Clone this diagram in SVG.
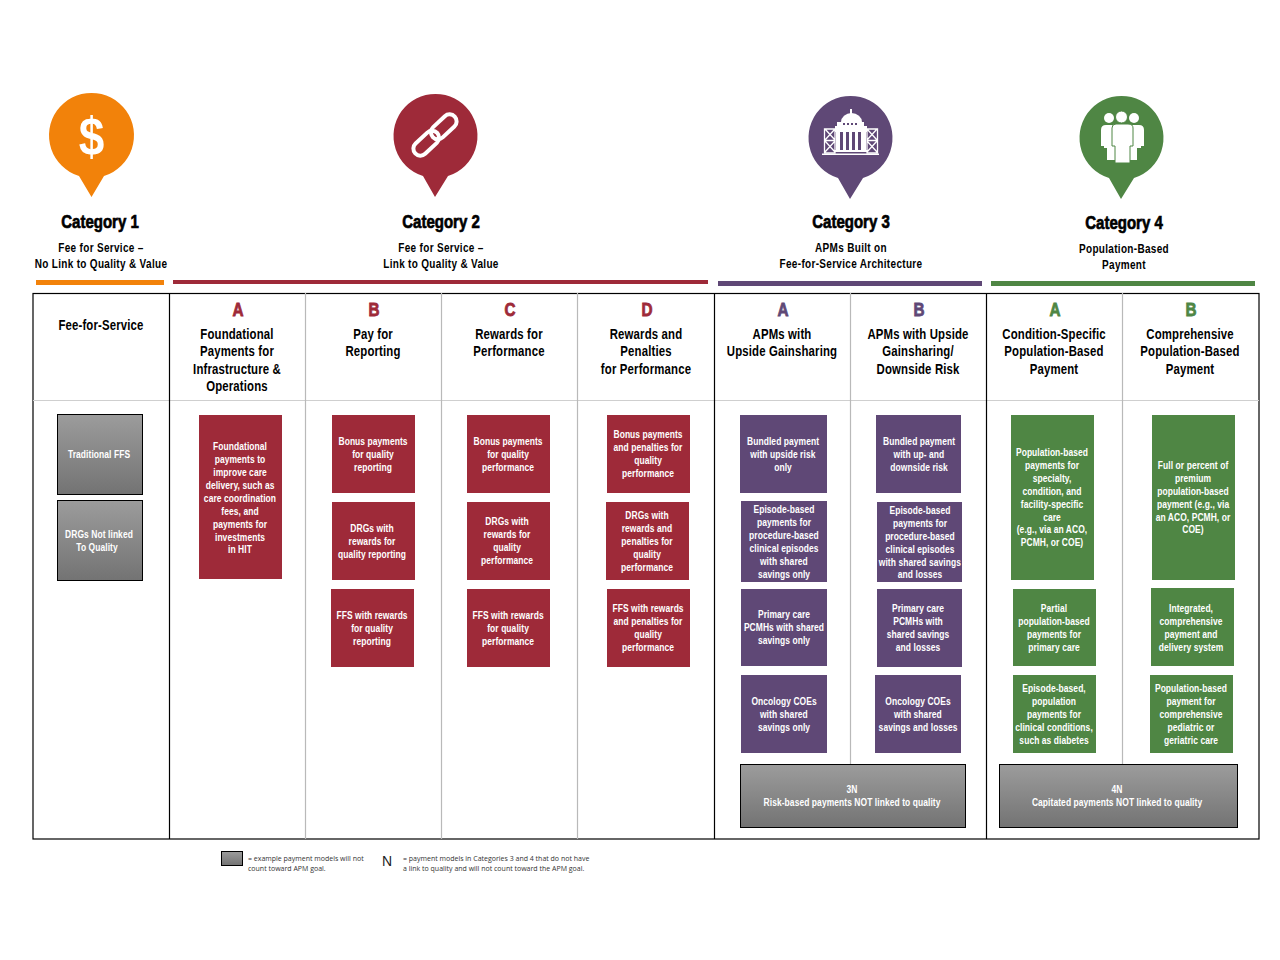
<svg xmlns="http://www.w3.org/2000/svg" width="1280" height="960" viewBox="0 0 1280 960">
<style>
text{font-family:"Liberation Sans",Arial,sans-serif;text-anchor:middle;font-weight:700;transform-box:fill-box;transform-origin:center}
.t{font-size:19px;fill:#000;stroke:#000;stroke-width:.7;transform:scaleX(.79)}
.s{font-size:12.5px;fill:#000;letter-spacing:.4px;transform:scaleX(.8)}
.h{font-size:15px;fill:#000;letter-spacing:.2px;transform:scaleX(.76)}
.b{font-size:11px;fill:#fff;letter-spacing:.1px;transform:scaleX(.77)}
.l{font-family:"Open Sans",sans-serif;font-weight:400;font-size:7px;fill:#333;text-anchor:start}
.r{fill:#9e2a39}.p{fill:#5f4876}.g{fill:#4f8644}.o{fill:#f2820a}
.k{fill:url(#gr);stroke:#000;stroke-width:1}
.bl{stroke:#000;stroke-width:1.2}.gy{stroke:#b9b9b9;stroke-width:1.2}
.L{font-size:18px;stroke-width:.8;transform:scaleX(.85)}
</style>
<defs><linearGradient id="gr" x1="0" y1="0" x2="0" y2="1"><stop offset="0" stop-color="#9c9c9c"/><stop offset="1" stop-color="#737373"/></linearGradient></defs>
<rect width="1280" height="960" fill="#fff"/>
<g id="connectors">
<rect x="33" y="293.500" width="1226" height="545.500" fill="none" stroke="#000" stroke-width="1.200"/>
<line class="gy" x1="33" y1="400.500" x2="1259" y2="400.500" style="stroke:#cfcfcf"/>
<line class="bl" x1="169.500" y1="293" x2="169.500" y2="839"/>
<line class="gy" x1="305.500" y1="293" x2="305.500" y2="839"/>
<line class="gy" x1="441.500" y1="293" x2="441.500" y2="839"/>
<line class="gy" x1="577.500" y1="293" x2="577.500" y2="839"/>
<line class="bl" x1="714.500" y1="293" x2="714.500" y2="839"/>
<line class="gy" x1="850.500" y1="293" x2="850.500" y2="764"/>
<line class="bl" x1="986.500" y1="293" x2="986.500" y2="839"/>
<line class="gy" x1="1122.500" y1="293" x2="1122.500" y2="764"/>
</g>
<g id="cat1">
<path class="o" d="M79 176A42.500 42.500 0 1 1 104 176L91.500 197Z"/>
<text x="91.500" y="155" style="font-size:54px;fill:#fff;transform:scaleX(.85)">$</text>
<text class="t" x="100" y="228">Category 1</text>
<text class="s" x="101" y="252">Fee for Service –</text>
<text class="s" x="101" y="268">No Link to Quality &amp; Value</text>
<rect class="o" x="36" y="280" width="128" height="5"/>
</g>
<g id="cat2">
<path class="r" d="M423 176A42 42 0 1 1 448 176L435 197Z"/>
<g fill="none" stroke="#fff" stroke-width="4" transform="rotate(-43 435 135)">
<rect x="408" y="128" width="30" height="14" rx="7"/>
<rect x="432" y="128" width="30" height="14" rx="7"/>
</g>
<text class="t" x="441" y="228">Category 2</text>
<text class="s" x="441" y="252">Fee for Service –</text>
<text class="s" x="441" y="268">Link to Quality &amp; Value</text>
<rect class="r" x="173" y="280" width="535" height="4"/>
</g>
<g id="cat3">
<path class="p" d="M838 178A42 42 0 1 1 863 178L850 199Z"/>
<g fill="#fff">
<rect x="850" y="109" width="2" height="5"/>
<path d="M841 122A10.500 9 0 0 1 862 122Z"/>
<rect x="837" y="122" width="27" height="4"/>
<rect x="835" y="126" width="32" height="6"/>
<rect x="836" y="132" width="4" height="18"/><rect x="843" y="132" width="3" height="18"/><rect x="849" y="132" width="3" height="18"/><rect x="855" y="132" width="3" height="18"/><rect x="861" y="132" width="5" height="18"/>
<rect x="822" y="153.500" width="57" height="1.500"/>
<rect x="835" y="150" width="32" height="2"/>
</g>
<g fill="#5f4876"><rect x="843" y="123" width="2" height="2"/><rect x="847" y="123" width="2" height="2"/><rect x="851" y="123" width="2" height="2"/><rect x="855" y="123" width="2" height="2"/></g>
<g fill="none" stroke="#fff" stroke-width="1.300">
<path d="M824.500 129H835V153H824.500ZM824.500 140.500H835M825 129L835 140M835 129L825 140M825 141L835 152M835 141L825 152"/>
<path d="M867 129H877.500V153H867ZM867 140.500H877.500M867 129L877 140M877 129L867 140M867 141L877 152M877 141L867 152"/>
</g>
<text class="t" x="851" y="228">Category 3</text>
<text class="s" x="851" y="252">APMs Built on</text>
<text class="s" x="851" y="268">Fee-for-Service Architecture</text>
<rect class="p" x="718" y="281" width="264" height="5"/>
</g>
<g id="cat4">
<path class="g" d="M1109 178A42 42 0 1 1 1134 178L1121 199Z"/>
<g fill="#fff">
<circle cx="1109" cy="118" r="5"/><circle cx="1134" cy="118" r="5"/>
<path d="M1101 130Q1101 125 1106 125H1116V160H1107V148H1104V146H1101Z"/>
<path d="M1144 130Q1144 125 1139 125H1129V160H1137V148H1141V146H1144Z"/>
</g>
<g fill="#fff" stroke="#4f8644" stroke-width="1">
<circle cx="1121.500" cy="117" r="6"/>
<path d="M1112 128Q1112 124 1116 124H1128Q1133 124 1133 128V146H1130V163H1115V146H1112Z"/>
</g>
<text class="t" x="1124" y="229">Category 4</text>
<text class="s" x="1124" y="253">Population-Based</text>
<text class="s" x="1124" y="269">Payment</text>
<rect class="g" x="991" y="281" width="264" height="5"/>
</g>
<g id="headers">
<text class="h" x="101" y="330">Fee-for-Service</text>
<text class="t L" x="238" y="316" style="fill:#9e2a39;stroke:#9e2a39">A</text>
<text class="h" x="237" y="339">Foundational</text><text class="h" x="237" y="356">Payments for</text><text class="h" x="237" y="374">Infrastructure &amp;</text><text class="h" x="237" y="391">Operations</text>
<text class="t L" x="374" y="316" style="fill:#9e2a39;stroke:#9e2a39">B</text>
<text class="h" x="373" y="339">Pay for</text><text class="h" x="373" y="356">Reporting</text>
<text class="t L" x="510" y="316" style="fill:#9e2a39;stroke:#9e2a39">C</text>
<text class="h" x="509" y="339">Rewards for</text><text class="h" x="509" y="356">Performance</text>
<text class="t L" x="647" y="316" style="fill:#9e2a39;stroke:#9e2a39">D</text>
<text class="h" x="646" y="339">Rewards and</text><text class="h" x="646" y="356">Penalties</text><text class="h" x="646" y="374">for Performance</text>
<text class="t L" x="783" y="316" style="fill:#5f4876;stroke:#5f4876">A</text>
<text class="h" x="782" y="339">APMs with</text><text class="h" x="782" y="356">Upside Gainsharing</text>
<text class="t L" x="919" y="316" style="fill:#5f4876;stroke:#5f4876">B</text>
<text class="h" x="918" y="339">APMs with Upside</text><text class="h" x="918" y="356">Gainsharing/</text><text class="h" x="918" y="374">Downside Risk</text>
<text class="t L" x="1055" y="316" style="fill:#4f8644;stroke:#4f8644">A</text>
<text class="h" x="1054" y="339">Condition-Specific</text><text class="h" x="1054" y="356">Population-Based</text><text class="h" x="1054" y="374">Payment</text>
<text class="t L" x="1191" y="316" style="fill:#4f8644;stroke:#4f8644">B</text>
<text class="h" x="1190" y="339">Comprehensive</text><text class="h" x="1190" y="356">Population-Based</text><text class="h" x="1190" y="374">Payment</text>
</g>
<g id="n-ffs"><rect class="k" x="57.500" y="414.500" width="85" height="80"/><text class="b" x="99" y="458">Traditional FFS</text></g>
<g id="n-drg"><rect class="k" x="57.500" y="500.500" width="85" height="80"/><text class="b" x="99" y="538">DRGs Not linked</text><text class="b" x="97" y="551">To Quality</text></g>
<g id="n-2a"><rect class="r" x="199" y="415" width="83" height="164"/>
<text class="b" x="240" y="450">Foundational</text><text class="b" x="240" y="463">payments to</text><text class="b" x="240" y="476">improve care</text><text class="b" x="240" y="489">delivery, such as</text><text class="b" x="240" y="502">care coordination</text><text class="b" x="240" y="515">fees, and</text><text class="b" x="240" y="528">payments for</text><text class="b" x="240" y="541">investments</text><text class="b" x="240" y="553">in HIT</text></g>
<g id="n-2b1"><rect class="r" x="332" y="415" width="83" height="78"/><text class="b" x="373" y="445">Bonus payments</text><text class="b" x="373" y="458">for quality</text><text class="b" x="373" y="471">reporting</text></g>
<g id="n-2b2"><rect class="r" x="332" y="502" width="83" height="78"/><text class="b" x="372" y="532">DRGs with</text><text class="b" x="372" y="545">rewards for</text><text class="b" x="372" y="558">quality reporting</text></g>
<g id="n-2b3"><rect class="r" x="331" y="589" width="83" height="78"/><text class="b" x="372" y="619">FFS with rewards</text><text class="b" x="372" y="632">for quality</text><text class="b" x="372" y="645">reporting</text></g>
<g id="n-2c1"><rect class="r" x="467" y="415" width="83" height="78"/><text class="b" x="508" y="445">Bonus payments</text><text class="b" x="508" y="458">for quality</text><text class="b" x="508" y="471">performance</text></g>
<g id="n-2c2"><rect class="r" x="467" y="502" width="83" height="78"/><text class="b" x="507" y="525">DRGs with</text><text class="b" x="507" y="538">rewards for</text><text class="b" x="507" y="551">quality</text><text class="b" x="507" y="564">performance</text></g>
<g id="n-2c3"><rect class="r" x="467" y="589" width="83" height="78"/><text class="b" x="508" y="619">FFS with rewards</text><text class="b" x="508" y="632">for quality</text><text class="b" x="508" y="645">performance</text></g>
<g id="n-2d1"><rect class="r" x="607" y="415" width="83" height="78"/><text class="b" x="648" y="438">Bonus payments</text><text class="b" x="648" y="451">and penalties for</text><text class="b" x="648" y="464">quality</text><text class="b" x="648" y="477">performance</text></g>
<g id="n-2d2"><rect class="r" x="606" y="502" width="83" height="78"/><text class="b" x="647" y="519">DRGs with</text><text class="b" x="647" y="532">rewards and</text><text class="b" x="647" y="545">penalties for</text><text class="b" x="647" y="558">quality</text><text class="b" x="647" y="571">performance</text></g>
<g id="n-2d3"><rect class="r" x="607" y="589" width="83" height="78"/><text class="b" x="648" y="612">FFS with rewards</text><text class="b" x="648" y="625">and penalties for</text><text class="b" x="648" y="638">quality</text><text class="b" x="648" y="651">performance</text></g>
<g id="n-3a1"><rect class="p" x="740" y="415" width="87" height="78"/><text class="b" x="783" y="445">Bundled payment</text><text class="b" x="783" y="458">with upside risk</text><text class="b" x="783" y="471">only</text></g>
<g id="n-3a2"><rect class="p" x="741" y="501" width="86" height="81"/><text class="b" x="784" y="513">Episode-based</text><text class="b" x="784" y="526">payments for</text><text class="b" x="784" y="539">procedure-based</text><text class="b" x="784" y="552">clinical episodes</text><text class="b" x="784" y="565">with shared</text><text class="b" x="784" y="578">savings only</text></g>
<g id="n-3a3"><rect class="p" x="741" y="589" width="86" height="77"/><text class="b" x="784" y="618">Primary care</text><text class="b" x="784" y="631">PCMHs with shared</text><text class="b" x="784" y="644">savings only</text></g>
<g id="n-3a4"><rect class="p" x="741" y="675" width="86" height="78"/><text class="b" x="784" y="705">Oncology COEs</text><text class="b" x="784" y="718">with shared</text><text class="b" x="784" y="731">savings only</text></g>
<g id="n-3b1"><rect class="p" x="876" y="415" width="85" height="78"/><text class="b" x="919" y="445">Bundled payment</text><text class="b" x="919" y="458">with up- and</text><text class="b" x="919" y="471">downside risk</text></g>
<g id="n-3b2"><rect class="p" x="877" y="502" width="85" height="80"/><text class="b" x="920" y="514">Episode-based</text><text class="b" x="920" y="527">payments for</text><text class="b" x="920" y="540">procedure-based</text><text class="b" x="920" y="553">clinical episodes</text><text class="b" x="920" y="566">with shared savings</text><text class="b" x="920" y="578">and losses</text></g>
<g id="n-3b3"><rect class="p" x="877" y="589" width="85" height="78"/><text class="b" x="918" y="612">Primary care</text><text class="b" x="918" y="625">PCMHs with</text><text class="b" x="918" y="638">shared savings</text><text class="b" x="918" y="651">and losses</text></g>
<g id="n-3b4"><rect class="p" x="875" y="675" width="86" height="78"/><text class="b" x="918" y="705">Oncology COEs</text><text class="b" x="918" y="718">with shared</text><text class="b" x="918" y="731">savings and losses</text></g>
<g id="n-3n"><rect class="k" x="740.500" y="764.500" width="225" height="63"/><text class="b" x="852" y="793">3N</text><text class="b" x="852" y="806">Risk-based payments NOT linked to quality</text></g>
<g id="n-4a1"><rect class="g" x="1011" y="415" width="83" height="165"/><text class="b" x="1052" y="456">Population-based</text><text class="b" x="1052" y="469">payments for</text><text class="b" x="1052" y="482">specialty,</text><text class="b" x="1052" y="495">condition, and</text><text class="b" x="1052" y="508">facility-specific</text><text class="b" x="1052" y="521">care</text><text class="b" x="1052" y="533">(e.g., via an ACO,</text><text class="b" x="1052" y="546">PCMH, or COE)</text></g>
<g id="n-4a2"><rect class="g" x="1013" y="589" width="83" height="77"/><text class="b" x="1054" y="612">Partial</text><text class="b" x="1054" y="625">population-based</text><text class="b" x="1054" y="638">payments for</text><text class="b" x="1054" y="651">primary care</text></g>
<g id="n-4a3"><rect class="g" x="1013" y="675" width="83" height="78"/><text class="b" x="1054" y="692">Episode-based,</text><text class="b" x="1054" y="705">population</text><text class="b" x="1054" y="718">payments for</text><text class="b" x="1054" y="731">clinical conditions,</text><text class="b" x="1054" y="744">such as diabetes</text></g>
<g id="n-4b1"><rect class="g" x="1152" y="415" width="83" height="165"/><text class="b" x="1193" y="469">Full or percent of</text><text class="b" x="1193" y="482">premium</text><text class="b" x="1193" y="495">population-based</text><text class="b" x="1193" y="508">payment (e.g., via</text><text class="b" x="1193" y="521">an ACO, PCMH, or</text><text class="b" x="1193" y="533">COE)</text></g>
<g id="n-4b2"><rect class="g" x="1151" y="588" width="83" height="78"/><text class="b" x="1191" y="612">Integrated,</text><text class="b" x="1191" y="625">comprehensive</text><text class="b" x="1191" y="638">payment and</text><text class="b" x="1191" y="651">delivery system</text></g>
<g id="n-4b3"><rect class="g" x="1150" y="675" width="83" height="78"/><text class="b" x="1191" y="692">Population-based</text><text class="b" x="1191" y="705">payment for</text><text class="b" x="1191" y="718">comprehensive</text><text class="b" x="1191" y="731">pediatric or</text><text class="b" x="1191" y="744">geriatric care</text></g>
<g id="n-4n"><rect class="k" x="999.500" y="764.500" width="238" height="63"/><text class="b" x="1117" y="793">4N</text><text class="b" x="1117" y="806">Capitated payments NOT linked to quality</text></g>
<g id="legend">
<rect class="k" x="221.500" y="851.500" width="21" height="14"/>
<text class="l" x="248" y="861">= example payment models will not</text>
<text class="l" x="248" y="871">count toward APM goal.</text>
<text x="387" y="866" style="font-weight:400;font-size:14px;fill:#222">N</text>
<text class="l" x="403" y="861">= payment models in Categories 3 and 4 that do not have</text>
<text class="l" x="403" y="871">a link to quality and will not count toward the APM goal.</text>
</g>
</svg>
